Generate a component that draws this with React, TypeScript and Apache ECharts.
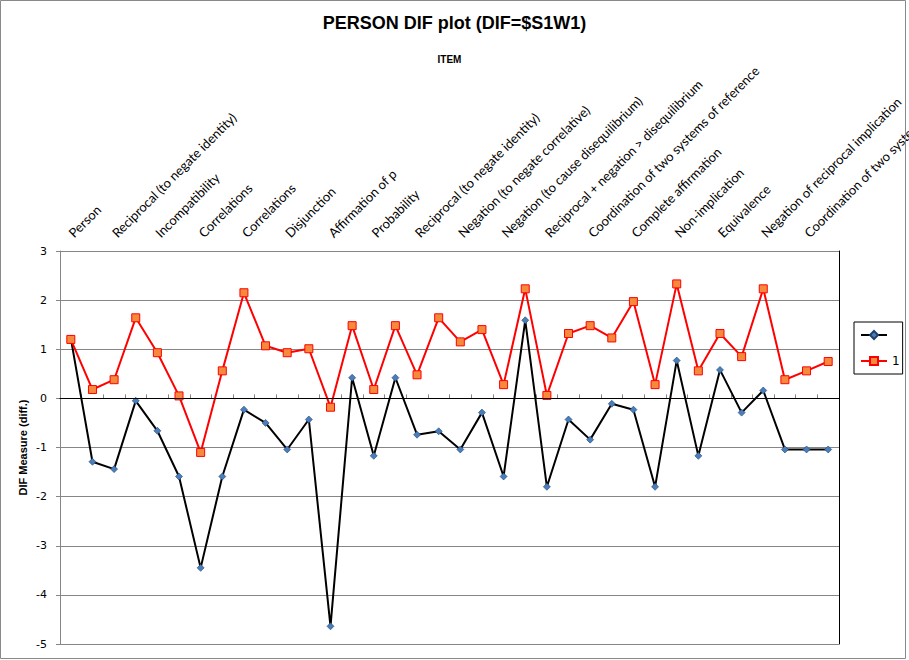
import React, { useEffect, useRef } from "react";
import * as echarts from "echarts";

const categories: string[] = [
  "Person", "",
  "Reciprocal (to negate identity)", "",
  "Incompatibility", "",
  "Correlations", "",
  "Correlations", "",
  "Disjunction", "",
  "Affirmation of p", "",
  "Probability", "",
  "Reciprocal (to negate identity)", "",
  "Negation (to negate correlative)", "",
  "Negation (to cause disequilibrium)", "",
  "Reciprocal + negation > disequilibrium", "",
  "Coordination of two systems of reference", "",
  "Complete affirmation", "",
  "Non-implication", "",
  "Equivalence", "",
  "Negation of reciprocal implication", "",
  "Coordination of two systems of reference", "",
];

const seriesBlackName = " ";
const seriesBlack: number[] = [
  1.22, -1.29, -1.44, -0.05, -0.66, -1.59, -3.45, -1.59, -0.23, -0.5,
  -1.04, -0.43, -4.64, 0.42, -1.17, 0.42, -0.74, -0.67, -1.04, -0.29,
  -1.59, 1.59, -1.8, -0.43, -0.84, -0.11, -0.23, -1.8, 0.77, -1.17,
  0.58, -0.29, 0.16, -1.04, -1.04, -1.04,
];

const seriesRedName = "1";
const seriesRed: number[] = [
  1.2, 0.18, 0.38, 1.64, 0.93, 0.05, -1.1, 0.56, 2.15, 1.07,
  0.93, 1.01, -0.18, 1.48, 0.18, 1.48, 0.48, 1.64, 1.15, 1.4,
  0.28, 2.23, 0.06, 1.32, 1.48, 1.23, 1.97, 0.28, 2.33, 0.56,
  1.32, 0.85, 2.23, 0.38, 0.56, 0.75,
];

const titleText = "PERSON DIF plot (DIF=$S1W1)";
const xName = "ITEM";
const yName = "DIF Measure (diff.)";
const yMin = -5;
const yMax = 3;
const yStep = 1;

export default function App() {
  const ref = useRef<HTMLDivElement>(null);
  useEffect(() => {
    if (!ref.current) return;
    const chart = echarts.init(ref.current, undefined, { renderer: "svg" });
    const gray = "#868686";
    chart.setOption({
      animation: false,
      backgroundColor: "#ffffff",
      title: {
        text: titleText,
        left: "center",
        top: 9,
        textStyle: {
          fontFamily: "Liberation Sans",
          fontWeight: "bold",
          fontSize: 18,
          color: "#000",
        },
      },
      graphic: [
        {
          type: "rect",
          shape: { x: 0.5, y: 0.5, width: 905, height: 658 },
          style: { fill: "none", stroke: "#898989", lineWidth: 1 },
          silent: true,
          z: 10,
        },
      ],
      legend: {
        orient: "vertical",
        left: 854,
        top: 322,
        padding: [7, 3, 7, 6],
        borderColor: "#000",
        borderWidth: 1,
        itemWidth: 26,
        itemHeight: 10,
        itemGap: 14,
        data: [seriesBlackName, seriesRedName],
        textStyle: { fontFamily: "DejaVu Sans", fontSize: 12, color: "#000" },
      },
      grid: {
        left: 60,
        top: 251,
        width: 779,
        height: 393,
        show: false,
        containLabel: false,
        outerBoundsMode: "none",
      },
      xAxis: [
        {
          type: "category",
          position: "top",
          data: categories,
          boundaryGap: true,
          name: xName,
          nameLocation: "middle",
          nameGap: 187,
          nameMoveOverlap: false,
          nameTextStyle: {
            fontFamily: "Liberation Sans",
            fontWeight: "bold",
            fontSize: 10,
            color: "#000",
          },
          axisLine: { show: true, lineStyle: { color: gray, width: 1 } },
          axisTick: { show: true, interval: 0, length: 4, lineStyle: { color: gray } },
          axisLabel: {
            interval: 1,
            rotate: 45,
            margin: 16,
            fontFamily: "Lato",
            fontSize: 13,
            color: "#000",
          },
          splitLine: { show: false },
        },
        {
          type: "category",
          position: "bottom",
          data: categories,
          z: 5,
          axisLine: { show: true, lineStyle: { color: "#000", width: 1 } },
          axisTick: { show: false },
          axisLabel: { show: false },
          splitLine: { show: false },
        },
      ],
      yAxis: [
        {
          type: "value",
          min: yMin,
          max: yMax,
          interval: yStep,
          name: yName,
          nameLocation: "middle",
          nameRotate: 90,
          nameGap: 32,
          nameMoveOverlap: false,
          nameTextStyle: {
            fontFamily: "Liberation Sans",
            fontWeight: "bold",
            fontSize: 11,
            color: "#000",
          },
          axisLine: { show: true, lineStyle: { color: gray, width: 1 } },
          axisTick: { show: true, length: 4, lineStyle: { color: gray } },
          axisLabel: {
            margin: 13,
            fontFamily: "DejaVu Sans",
            fontSize: 11,
            color: "#000",
          },
          splitLine: { show: true, lineStyle: { color: gray, width: 1 } },
        },
        {
          type: "value",
          position: "right",
          min: yMin,
          max: yMax,
          interval: yStep,
          z: 5,
          axisLine: { show: true, lineStyle: { color: "#000", width: 1 } },
          axisTick: { show: false },
          axisLabel: { show: false },
          splitLine: { show: false },
        },
      ],
      series: [
        {
          name: seriesBlackName,
          type: "line",
          xAxisIndex: 0,
          yAxisIndex: 0,
          data: seriesBlack,
          symbol: "diamond",
          symbolSize: 7,
          showAllSymbol: true,
          lineStyle: { color: "#000", width: 2 },
          itemStyle: { color: "#4a7ebb", borderColor: "#1f3f6f", borderWidth: 0.6 },
          emphasis: { disabled: true },
        },
        {
          name: seriesRedName,
          type: "line",
          xAxisIndex: 0,
          yAxisIndex: 0,
          data: seriesRed,
          symbol: "rect",
          symbolSize: 8,
          showAllSymbol: true,
          lineStyle: { color: "#ff0000", width: 2 },
          itemStyle: { color: "#f58a3c", borderColor: "#ff0000", borderWidth: 1 },
          emphasis: { disabled: true },
        },
      ],
    });
    return () => chart.dispose();
  }, []);
  return (
    <div
      ref={ref}
      style={{ position: "absolute", left: 0, top: 0, width: 909, height: 660 }}
    />
  );
}
